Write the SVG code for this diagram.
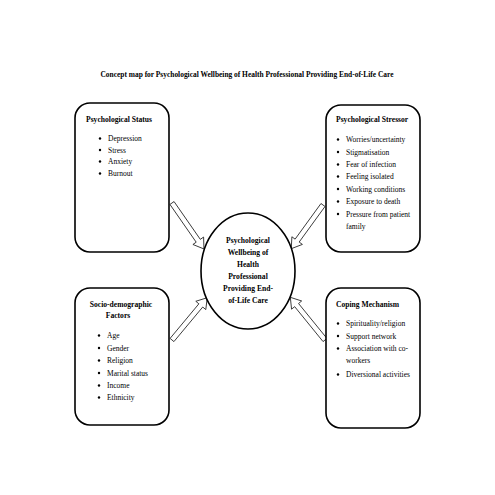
<svg xmlns="http://www.w3.org/2000/svg" width="495" height="495" viewBox="0 0 495 495">
<style>
text{font-family:"Liberation Serif","Times New Roman",serif;fill:#000;}
.t{font-size:7.6px;font-weight:bold;}
.h{font-size:8.6px;font-weight:bold;}
.i{font-size:7.5px;}
.box{fill:#fff;stroke:#000;stroke-width:1.6;}
.arr{fill:#fff;stroke:#222;stroke-width:0.8;stroke-linejoin:miter;}
.b{fill:#000;}
</style>
<rect width="495" height="495" fill="#fff"/>
<text x="247" y="77" class="h" text-anchor="middle" textLength="293" lengthAdjust="spacingAndGlyphs">Concept map for Psychological Wellbeing of Health Professional Providing End-of-Life Care</text>

<g id="connectors">
<polygon class="arr" points="0,-2.5 46,-2.5 46,-6.5 56,0 46,6.5 46,2.5 0,2.5" transform="translate(172,203) rotate(55.2)"/>
<polygon class="arr" points="0,-2.5 44,-2.5 44,-6.5 54,0 44,6.5 44,2.5 0,2.5" transform="translate(323,205) rotate(126)"/>
<polygon class="arr" points="0,-2.5 45,-2.5 45,-6.5 55,0 45,6.5 45,2.5 0,2.5" transform="translate(172,340) rotate(-50.2)"/>
<polygon class="arr" points="0,-2.5 45,-2.5 45,-6.5 55,0 45,6.5 45,2.5 0,2.5" transform="translate(325,340) rotate(-129.1)"/>
</g>

<g id="status">
<rect class="box" x="75" y="103" width="94" height="149" rx="15"/>
<text x="86" y="122" class="t">Psychological Status</text>
<circle class="b" cx="100" cy="138.5" r="1.2"/><text x="108" y="141" class="i">Depression</text>
<circle class="b" cx="100" cy="150" r="1.2"/><text x="108" y="152.5" class="i">Stress</text>
<circle class="b" cx="100" cy="161.5" r="1.2"/><text x="108" y="164" class="i">Anxiety</text>
<circle class="b" cx="100" cy="173.5" r="1.2"/><text x="108" y="176" class="i">Burnout</text>
</g>

<g id="stressor">
<rect class="box" x="326" y="105" width="94" height="147" rx="15"/>
<text x="336" y="122" class="t">Psychological Stressor</text>
<circle class="b" cx="338" cy="139.5" r="1.2"/><text x="346" y="142" class="i">Worries/uncertainty</text>
<circle class="b" cx="338" cy="152" r="1.2"/><text x="346" y="154.5" class="i">Stigmatisation</text>
<circle class="b" cx="338" cy="164.5" r="1.2"/><text x="346" y="167" class="i">Fear of infection</text>
<circle class="b" cx="338" cy="176.5" r="1.2"/><text x="346" y="179" class="i">Feeling isolated</text>
<circle class="b" cx="338" cy="189" r="1.2"/><text x="346" y="191.5" class="i">Working conditions</text>
<circle class="b" cx="338" cy="201.5" r="1.2"/><text x="346" y="204" class="i">Exposure to death</text>
<circle class="b" cx="338" cy="214" r="1.2"/><text x="346" y="216.5" class="i">Pressure from patient</text>
<text x="346" y="229" class="i">family</text>
</g>

<g id="center">
<ellipse class="box" cx="248" cy="271" rx="47" ry="58"/>
<text x="248" y="243" class="t" text-anchor="middle">Psychological</text>
<text x="248" y="255" class="t" text-anchor="middle">Wellbeing of</text>
<text x="248" y="267" class="t" text-anchor="middle">Health</text>
<text x="248" y="279" class="t" text-anchor="middle">Professional</text>
<text x="248" y="291" class="t" text-anchor="middle">Providing End-</text>
<text x="248" y="303" class="t" text-anchor="middle">of-Life Care</text>
</g>

<g id="sociodemographic">
<rect class="box" x="75" y="288" width="94" height="137" rx="15"/>
<text x="121" y="307" class="t" text-anchor="middle">Socio-demographic</text>
<text x="118" y="318" class="t" text-anchor="middle">Factors</text>
<circle class="b" cx="99" cy="335.5" r="1.2"/><text x="107" y="338" class="i">Age</text>
<circle class="b" cx="99" cy="348" r="1.2"/><text x="107" y="350.5" class="i">Gender</text>
<circle class="b" cx="99" cy="360.5" r="1.2"/><text x="107" y="363" class="i">Religion</text>
<circle class="b" cx="99" cy="373" r="1.2"/><text x="107" y="375.5" class="i">Marital status</text>
<circle class="b" cx="99" cy="385.5" r="1.2"/><text x="107" y="388" class="i">Income</text>
<circle class="b" cx="99" cy="397.5" r="1.2"/><text x="107" y="400" class="i">Ethnicity</text>
</g>

<g id="coping">
<rect class="box" x="326" y="288" width="94" height="140" rx="15"/>
<text x="336" y="307" class="t">Coping Mechanism</text>
<circle class="b" cx="338" cy="323.5" r="1.2"/><text x="346" y="326" class="i">Spirituality/religion</text>
<circle class="b" cx="338" cy="336" r="1.2"/><text x="346" y="338.5" class="i">Support network</text>
<circle class="b" cx="338" cy="348.5" r="1.2"/><text x="346" y="351" class="i">Association with co-</text>
<text x="346" y="363" class="i">workers</text>
<circle class="b" cx="338" cy="374.5" r="1.2"/><text x="346" y="377" class="i">Diversional activities</text>
</g>
</svg>
